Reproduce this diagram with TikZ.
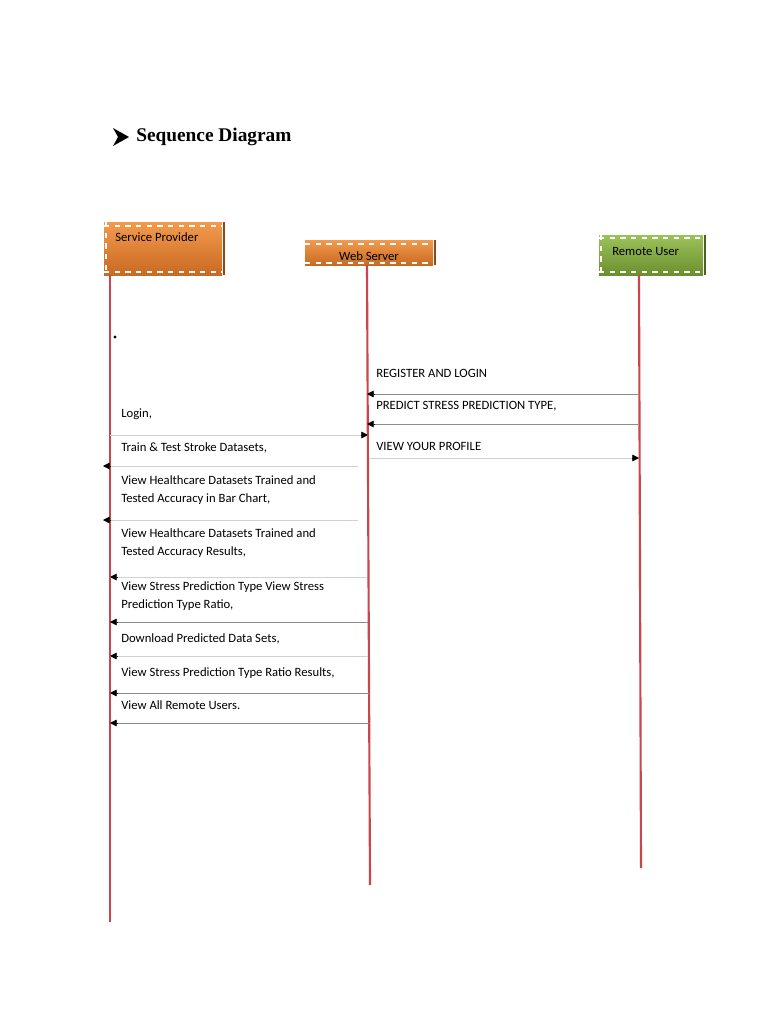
\documentclass[tikz,border=0pt]{standalone}
\usepackage{fontspec}
\setmainfont{Carlito}
\newfontfamily\titlefont{Liberation Serif}
\usetikzlibrary{arrows.meta,calc}
\definecolor{life}{HTML}{C8474A}
\definecolor{orA}{HTML}{F39A4E}
\definecolor{orB}{HTML}{C96A22}
\definecolor{grA}{HTML}{9CC25A}
\definecolor{grB}{HTML}{6C8F2E}
\tikzset{
  x=0.75pt,y=-0.75pt,
  lifeline/.style={draw=life,line width=1.6pt},
  msg/.style={draw=black!18,line width=0.6pt},
  tip/.style={-{Triangle[length=5pt,width=5pt]},draw=black,line width=0.4pt},
  lbl/.style={anchor=west,inner sep=0pt,font=\fontsize{9.5pt}{12pt}\selectfont}
}
\begin{document}
\begin{tikzpicture}
\useasboundingbox[fill=white] (0,0) rectangle (768,1024);
% title
\fill (113,128) -- (129,137) -- (113,146) -- (118,137) -- cycle;
\node[anchor=west,inner sep=0pt,font=\titlefont\bfseries\fontsize{14.5pt}{16pt}\selectfont] (title) at (136,137) {Sequence Diagram};
% actors
\draw[orB!70!black,line width=1.5pt] (224,222) -- (224,275);
\shade[top color=orA,bottom color=orB] (104,222) rectangle (222,275);
\draw[white,line width=1.6pt,dash pattern=on 4pt off 4pt] (104,226) -- (222,226) (104,272) -- (222,272) (106,222)--(106,275);
\node[lbl] (sp) at (115,237) {Service Provider};
\draw[orB!70!black,line width=1.5pt] (435,240) -- (435,265);
\shade[top color=orA,bottom color=orB] (305,240) rectangle (433,265);
\draw[white,line width=1.6pt,dash pattern=on 4pt off 4pt] (305,244) -- (433,244) (305,263) -- (433,263);
\begin{scope}
\clip (305,240) rectangle (433,262);
\node[inner sep=0pt,font=\fontsize{9.5pt}{12pt}\selectfont] (ws) at (369,256) {Web Server};
\end{scope}
\draw[grB!70!black,line width=1.5pt] (705,235) -- (705,275);
\shade[top color=grA,bottom color=grB] (599,235) rectangle (703,275);
\draw[white,line width=1.6pt,dash pattern=on 4pt off 4pt] (599,238) -- (703,238) (599,272) -- (703,272) (601,235)--(601,275);
\node[lbl] (ru) at (612,251) {Remote User};
% lifelines
\coordinate (spT) at (110,275); \coordinate (spB) at (110,922);
\coordinate (wsT) at (367,265); \coordinate (wsB) at (370,885);
\coordinate (ruT) at (639,275); \coordinate (ruB) at (641,868);
\draw[lifeline] (spT) -- (spB);
\draw[lifeline] (wsT) -- (wsB);
\draw[lifeline] (ruT) -- (ruB);
\fill (115,337) circle (1.6);
% messages web/remote
\node[lbl] (m1) at (376,373) {REGISTER AND LOGIN};
\coordinate (a1) at (638,394); \coordinate (b1) at (367,394);
\draw[msg,black!45] (a1) -- (b1); \draw[tip] ($(b1)+(7,0)$) -- (b1);
\node[lbl] (m2) at (376,406) {PREDICT STRESS PREDICTION TYPE,};
\coordinate (a2) at (638,424); \coordinate (b2) at (367,424);
\draw[msg,black!45] (a2) -- (b2); \draw[tip] ($(b2)+(7,0)$) -- (b2);
\node[lbl] (m3) at (376,446) {VIEW YOUR PROFILE};
\coordinate (a3) at (370,458); \coordinate (b3) at (639,458);
\draw[msg] (a3) -- (b3); \draw[tip] ($(b3)+(-7,0)$) -- (b3);
% provider messages
\node[lbl] (p1) at (121,414) {Login,};
\coordinate (a4) at (110,435); \coordinate (b4) at (368,435);
\draw[msg] (a4) -- (b4); \draw[tip] ($(b4)+(-7,0)$) -- (b4);
\node[lbl] (p2) at (121,448) {Train \& Test Stroke Datasets,};
\coordinate (a5) at (358,466); \coordinate (b5) at (103,466);
\draw[msg] (a5) -- (110,466); \draw[tip] ($(b5)+(7,0)$) -- (b5);
\node[lbl,align=left] (p3) at (121,490) {View Healthcare Datasets Trained and\\[2pt]Tested Accuracy in Bar Chart,};
\coordinate (a6) at (358,520); \coordinate (b6) at (103,520);
\draw[msg] (a6) -- (110,520); \draw[tip] ($(b6)+(7,0)$) -- (b6);
\node[lbl,align=left] (p4) at (121,543) {View Healthcare Datasets Trained and\\[2pt]Tested Accuracy Results,};
\coordinate (a7) at (367,577); \coordinate (b7) at (110,577);
\draw[msg] (a7) -- (b7); \draw[tip] ($(b7)+(7,0)$) -- (b7);
\node[lbl,align=left] (p5) at (121,596) {View Stress Prediction Type View Stress\\[2pt]Prediction Type Ratio,};
\coordinate (a8) at (368,622); \coordinate (b8) at (110,622);
\draw[msg,black!45] (a8) -- (b8); \draw[tip] ($(b8)+(7,0)$) -- (b8);
\node[lbl] (p6) at (121,639) {Download Predicted Data Sets,};
\coordinate (a9) at (368,656); \coordinate (b9) at (110,656);
\draw[msg] (a9) -- (b9); \draw[tip] ($(b9)+(7,0)$) -- (b9);
\node[lbl] (p7) at (121,673) {View Stress Prediction Type Ratio Results,};
\coordinate (a10) at (369,693); \coordinate (b10) at (110,693);
\draw[msg,black!45] (a10) -- (b10); \draw[tip] ($(b10)+(7,0)$) -- (b10);
\node[lbl] (p8) at (121,705) {View All Remote Users.};
\coordinate (a11) at (369,723); \coordinate (b11) at (110,723);
\draw[msg,black!45] (a11) -- (b11); \draw[tip] ($(b11)+(7,0)$) -- (b11);
\end{tikzpicture}
\end{document}
